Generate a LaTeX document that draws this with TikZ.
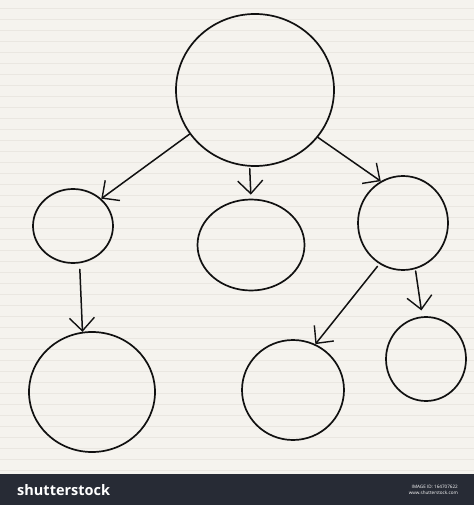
\documentclass[tikz,border=0pt]{standalone}
\usepackage{fontspec}
\setmainfont{Open Sans}
\usetikzlibrary{shapes.geometric,arrows.meta}
\definecolor{paper}{HTML}{F5F3EE}
\definecolor{rule}{HTML}{EAE7E1}
\definecolor{bar}{HTML}{272B35}
\definecolor{ink}{HTML}{111111}
\tikzset{
  bubble/.style={ellipse,draw=ink,line width=1.7pt,inner sep=0pt},
  link/.style={draw=ink,line width=1.5pt,line cap=round,
    -{Straight Barb[length=13pt,width=25pt,line width=1.4pt]}},
}
\begin{document}
\begin{tikzpicture}[x=1pt,y=-1pt]
\useasboundingbox (0,0) rectangle (474,505);
\fill[paper] (0,0) rectangle (474,474);
\foreach \yy in {8,19,...,470} \draw[rule,line width=0.6pt] (0,\yy) -- (474,\yy);
% nodes
\node[bubble,minimum width=158pt,minimum height=152pt] (top) at (255,90) {};
\node[bubble,minimum width=80pt,minimum height=74pt] (left) at (73,226) {};
\node[bubble,minimum width=107pt,minimum height=91pt] (mid) at (251,245) {};
\node[bubble,minimum width=90pt,minimum height=94pt] (right) at (403,223) {};
\node[bubble,minimum width=126pt,minimum height=120pt] (bl) at (92,392) {};
\node[bubble,minimum width=102pt,minimum height=100pt] (bm) at (293,390) {};
\node[bubble,minimum width=80pt,minimum height=84pt] (br) at (426,359) {};
% connectors
\draw[link] (top.214) -- (left.44);
\draw[link,shorten <=2pt,shorten >=4pt] (top.266) -- (mid.90);
\draw[link] (top.323) -- (right.118);
\draw[link,shorten <=6pt] (left.280) -- (bl.99);
\draw[link,shorten <=3pt] (right.240) -- (bm.64);
\draw[link,shorten <=2pt,shorten >=6pt] (right.285) -- (br.95);
% bottom bar
\fill[bar] (0,474) rectangle (474,505);
\node[anchor=west,text=white,font=\bfseries\fontsize{14.5}{15}\selectfont,inner sep=0pt] (logo) at (17,490) {shutterstock};
\node[anchor=east,text=white,font=\fontsize{4.6}{5.5}\selectfont,align=right,inner sep=0pt] (imgid) at (458,490) {IMAGE ID: 164707622\\www.shutterstock.com};
\end{tikzpicture}
\end{document}
